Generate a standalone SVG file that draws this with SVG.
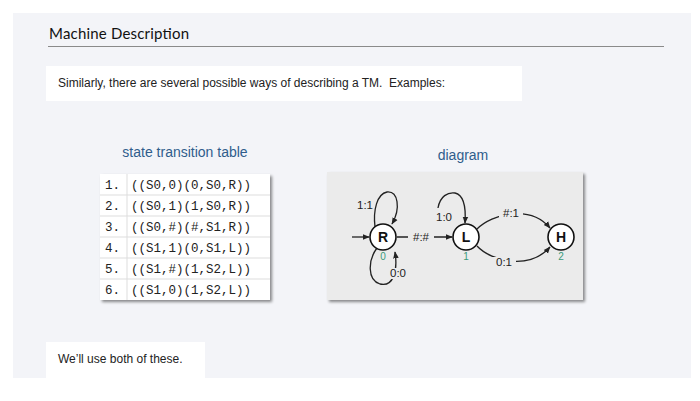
<svg xmlns="http://www.w3.org/2000/svg" width="700" height="401" viewBox="0 0 700 401">
<defs>
  <style>
    .title{font-family:Lato,"Liberation Sans",sans-serif;font-size:15px;fill:#111;}
    .body{font-family:"Liberation Sans",Arial,sans-serif;font-size:12px;fill:#222;white-space:pre;}
    .head{font-family:"Liberation Sans",Arial,sans-serif;font-size:14px;fill:#2f5d8c;}
    .mono{font-family:"Liberation Mono","Courier New",monospace;font-size:12.5px;fill:#222;}
    .lbl{font-family:"Liberation Sans",Arial,sans-serif;font-size:11.5px;fill:#222;}
    .num{font-family:"Liberation Sans",Arial,sans-serif;font-size:10px;fill:#3a9a7a;}
    .st{font-family:"Liberation Sans",Arial,sans-serif;font-size:14px;font-weight:bold;fill:#111;}
    .node{fill:#fff;stroke:#111;stroke-width:1.6;}
    .edge{fill:none;stroke:#222;stroke-width:1.3;marker-end:url(#arr);}
    .mask{fill:#ebebeb;}
    .grid{stroke:#ddd;stroke-width:1;}
  </style>
  <marker id="arr" viewBox="0 0 10 10" refX="9" refY="5" markerWidth="7" markerHeight="7" orient="auto" markerUnits="userSpaceOnUse">
    <path d="M0,1 L10,5 L0,9 z" fill="#222"/>
  </marker>
  <filter id="sh" x="-5%" y="-5%" width="115%" height="115%">
    <feGaussianBlur in="SourceAlpha" stdDeviation="1.5"/>
    <feOffset dx="2" dy="2"/>
    <feComponentTransfer><feFuncA type="linear" slope="0.45"/></feComponentTransfer>
    <feMerge><feMergeNode/><feMergeNode in="SourceGraphic"/></feMerge>
  </filter>
</defs>
<rect width="700" height="401" fill="#fff"/>
<rect x="13" y="13" width="678" height="365" fill="#f3f4f8"/>

<g id="title">
  <text class="title" x="49" y="39" textLength="140">Machine Description</text>
  <line x1="48" y1="46.5" x2="664" y2="46.5" stroke="#8a8a8a" stroke-width="1.2"/>
</g>

<g id="intro">
  <rect x="46" y="66" width="476" height="35" fill="#fff"/>
  <text class="body" x="58" y="87" xml:space="preserve">Similarly, there are several possible ways of describing a TM.  Examples:</text>
</g>

<g id="table">
  <text class="head" x="185" y="157" text-anchor="middle">state transition table</text>
  <rect x="100" y="174" width="170" height="126" fill="#fff" filter="url(#sh)"/>
  <g class="grid">
    <line x1="127" y1="174" x2="127" y2="300"/>
    <line x1="100" y1="195" x2="270" y2="195"/>
    <line x1="100" y1="216" x2="270" y2="216"/>
    <line x1="100" y1="237" x2="270" y2="237"/>
    <line x1="100" y1="258" x2="270" y2="258"/>
    <line x1="100" y1="279" x2="270" y2="279"/>
  </g>
  <text class="mono" x="105" y="189">1.</text><text class="mono" x="131" y="189">((S0,0)(0,S0,R))</text>
  <text class="mono" x="105" y="210">2.</text><text class="mono" x="131" y="210">((S0,1)(1,S0,R))</text>
  <text class="mono" x="105" y="231">3.</text><text class="mono" x="131" y="231">((S0,#)(#,S1,R))</text>
  <text class="mono" x="105" y="252">4.</text><text class="mono" x="131" y="252">((S1,1)(0,S1,L))</text>
  <text class="mono" x="105" y="273">5.</text><text class="mono" x="131" y="273">((S1,#)(1,S2,L))</text>
  <text class="mono" x="105" y="294">6.</text><text class="mono" x="131" y="294">((S1,0)(1,S2,L))</text>
</g>

<g id="diagram">
  <text class="head" x="463" y="160" text-anchor="middle">diagram</text>
  <rect x="327" y="172" width="256" height="128" fill="#ebebeb" filter="url(#sh)"/>
</g>

<g id="connectors">
  <path class="edge" d="M352,237 L369,237"/>
  <path class="edge" d="M375,227 C373,210 377,194 387,192 C398,191 401,208 392,224"/>
  <path class="edge" d="M377,248 C368,260 367,280 380,284 C393,287 398,272 395,252"/>
  <path class="edge" d="M397,237 L452,237"/>
  <path class="edge" d="M438,208 C440,196 448,192 455,193 C464,195 466,208 465,223"/>
  <path class="edge" d="M477,229 C492,214 530,204 550,228"/>
  <path class="edge" d="M477,246 C492,262 530,270 550,247"/>
  <rect class="mask" x="408" y="230" width="26" height="14"/>
  <rect class="mask" x="499" y="206" width="24" height="13"/>
  <rect class="mask" x="492" y="257" width="24" height="12"/>
  <rect class="mask" x="389" y="268" width="18" height="11"/>
  <text class="lbl" x="365" y="209" text-anchor="middle">1:1</text>
  <text class="lbl" x="398" y="277" text-anchor="middle">0:0</text>
  <text class="lbl" x="421" y="241" text-anchor="middle">#:#</text>
  <text class="lbl" x="444" y="221" text-anchor="middle">1:0</text>
  <text class="lbl" x="511" y="217" text-anchor="middle">#:1</text>
  <text class="lbl" x="504" y="266" text-anchor="middle">0:1</text>
</g>

<g id="node-R">
  <circle class="node" cx="383" cy="237" r="13"/>
  <text class="st" x="383" y="242" text-anchor="middle">R</text>
  <text class="num" x="383" y="260" text-anchor="middle">0</text>
</g>
<g id="node-L">
  <circle class="node" cx="466" cy="237" r="13"/>
  <text class="st" x="466" y="242" text-anchor="middle">L</text>
  <text class="num" x="466" y="260" text-anchor="middle">1</text>
</g>
<g id="node-H">
  <circle class="node" cx="561" cy="237" r="13"/>
  <text class="st" x="561" y="242" text-anchor="middle">H</text>
  <text class="num" x="561" y="260" text-anchor="middle">2</text>
</g>

<g id="outro">
  <rect x="46" y="342" width="159" height="36" fill="#fff"/>
  <text class="body" x="58" y="363">We’ll use both of these.</text>
</g>
</svg>
